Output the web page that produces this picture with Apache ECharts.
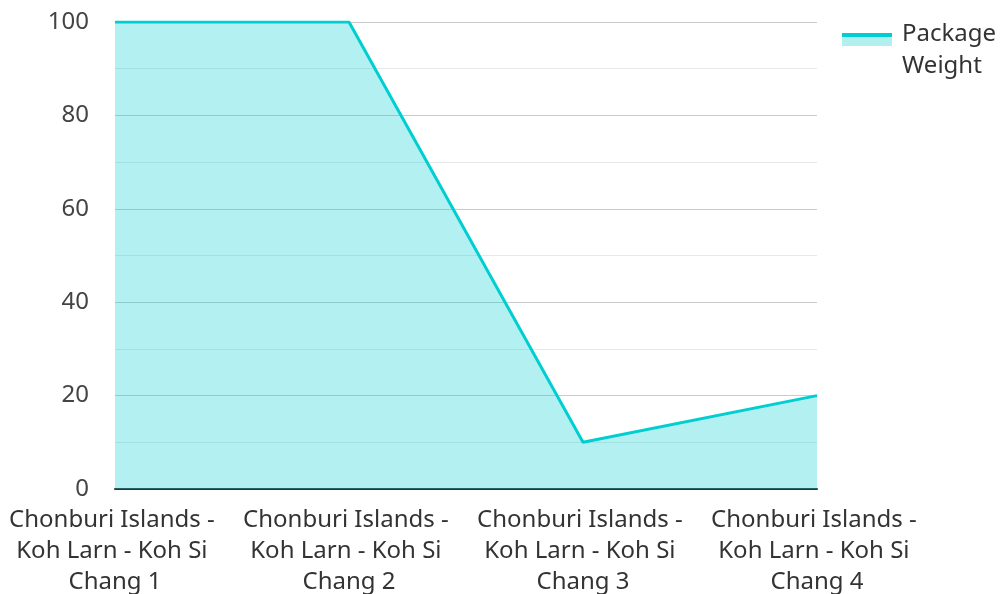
<!DOCTYPE html>
<html>
<head>
<meta charset="utf-8">
<script src="https://cdn.jsdelivr.net/npm/echarts@6/dist/echarts.min.js"></script>
<style>html,body{margin:0;padding:0;background:#fff;}#c{width:1003px;height:594px;}</style>
</head>
<body>
<div id="c"></div>
<script>
var categories = ['Chonburi Islands - Koh Larn - Koh Si Chang 1','Chonburi Islands - Koh Larn - Koh Si Chang 2','Chonburi Islands - Koh Larn - Koh Si Chang 3','Chonburi Islands - Koh Larn - Koh Si Chang 4'];
var weights = [100, 100, 10, 20];
var seriesName = 'Package Weight';

var iconSvg = '<svg xmlns="http://www.w3.org/2000/svg" width="50" height="64" viewBox="0 0 50 64"><rect x="0" y="17" width="50" height="11" fill="#b2f0ef"/><rect x="0" y="15" width="50" height="4" fill="#00CED1"/></svg>';
var icon = 'image://data:image/svg+xml;charset=utf-8,' + encodeURIComponent(iconSvg);

var chart = echarts.init(document.getElementById('c'));
chart.setOption({
  animation: false,
  textStyle: { fontFamily: 'Noto Sans' },
  grid: { left: 115, right: 186, top: 22, bottom: 105, containLabel: false, outerBoundsMode: 'none' },
  legend: {
    left: 837, top: 13, orient: 'vertical',
    icon: icon, itemWidth: 50, itemHeight: 64,
    data: [seriesName],
    formatter: function () { return 'Package\nWeight'; },
    textStyle: { fontSize: 24, color: '#333', lineHeight: 32, padding: [0, 0, 0, 5], fontFamily: 'Noto Sans' }
  },
  xAxis: {
    type: 'category', data: categories, boundaryGap: false,
    axisLine: { lineStyle: { color: '#333', width: 2 } },
    axisTick: { show: false },
    axisLabel: { fontSize: 24, color: '#333', lineHeight: 31, margin: 16, width: 228, overflow: 'break', interval: 0, fontFamily: 'Noto Sans' }
  },
  yAxis: {
    type: 'value', min: 0, max: 100, interval: 20,
    axisLine: { show: false }, axisTick: { show: false },
    axisLabel: { fontSize: 24, color: '#444', margin: 26, fontFamily: 'Noto Sans' },
    splitLine: { lineStyle: { color: '#cccccc', width: 1 } },
    minorTick: { show: false, splitNumber: 2 },
    minorSplitLine: { show: true, lineStyle: { color: '#e8e8e8', width: 1 } }
  },
  series: [{
    name: seriesName, type: 'line', data: weights,
    showSymbol: false, symbol: 'none',
    lineStyle: { color: '#00CED1', width: 3 },
    itemStyle: { color: '#00CED1' },
    areaStyle: { color: '#00CED1', opacity: 0.3 }
  }]
});
</script>
</body>
</html>
